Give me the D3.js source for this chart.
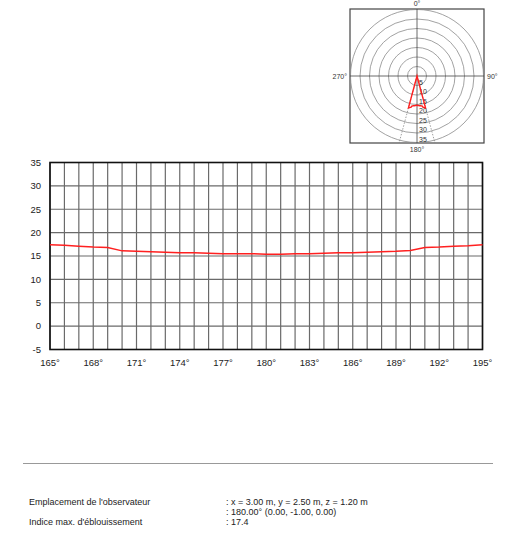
<!DOCTYPE html>
<meta charset="utf-8">
<body style="margin:0;background:#fff">
<script src="https://d3js.org/d3.v7.min.js"></script>
<svg></svg>
<script>
    var width = 505;
    var height = 536;

    // glare index per viewing angle (degrees)
    var angles = d3.range(165, 196);
    var glare = [17.4, 17.3, 17.1, 16.9, 16.8, 16.1, 16.0, 15.9, 15.8, 15.7, 15.7,
                 15.6, 15.5, 15.5, 15.5, 15.4, 15.4, 15.5, 15.5, 15.6, 15.7, 15.7,
                 15.8, 15.9, 16.0, 16.2, 16.8, 16.9, 17.1, 17.2, 17.4];
    var yTicks = [-5, 0, 5, 10, 15, 20, 25, 30, 35];
    var xTicks = [165, 168, 171, 174, 177, 180, 183, 186, 189, 192, 195];
    var ringValues = [5, 10, 15, 20, 25, 30, 35];
    var compassLabels = ["0°", "90°", "180°", "270°"];

    var infoLabels = ["Emplacement de l'observateur", "", "Indice max. d'éblouissement"];
    var infoValues = [": x = 3.00 m, y = 2.50 m, z = 1.20 m", ": 180.00° (0.00, -1.00, 0.00)", ": 17.4"];

    var svg = d3.select("svg")
        .attr("width", width)
        .attr("height", height)
        .style("display", "block")
        .style("font-family", "Liberation Sans, Arial, sans-serif");

    // **** LINE CHART ****
    var x = d3.scaleLinear().domain([165, 195]).range([50, 482.5]);
    var y = d3.scaleLinear().domain([-5, 35]).range([349.5, 162.5]);

    var grid = svg.append("g").attr("stroke", "#6a6a6a").attr("stroke-width", 1.2);
    grid.selectAll(".vx").data(d3.range(165, 196)).enter().append("line")
        .attr("x1", d => x(d)).attr("x2", d => x(d))
        .attr("y1", y(-5)).attr("y2", y(35));
    grid.selectAll(".hy").data(yTicks).enter().append("line")
        .attr("x1", x(165)).attr("x2", x(195))
        .attr("y1", d => y(d)).attr("y2", d => y(d));

    svg.append("rect")
        .attr("x", x(165)).attr("y", y(35))
        .attr("width", x(195) - x(165)).attr("height", y(-5) - y(35))
        .attr("fill", "none").attr("stroke", "#111").attr("stroke-width", 1.6);

    svg.append("path")
        .datum(angles)
        .attr("fill", "none").attr("stroke", "#ff2020").attr("stroke-width", 1.5)
        .attr("d", d3.line().x(d => x(d)).y((d, i) => y(glare[i])));

    svg.selectAll(".yl").data(yTicks).enter().append("text")
        .attr("x", 41).attr("y", d => y(d)).attr("dy", "0.35em")
        .attr("text-anchor", "end").attr("font-size", 9.5).attr("fill", "#222")
        .text(d => d);
    svg.selectAll(".xl").data(xTicks).enter().append("text")
        .attr("x", d => x(d)).attr("y", 365.5)
        .attr("text-anchor", "middle").attr("font-size", 9.5).attr("fill", "#222")
        .text(d => d + "°");

    // **** POLAR DIAGRAM ****
    var cx = 417, cy = 76, half = 67;
    var r = d3.scaleLinear().domain([0, 35]).range([0, 66.5]);
    var polar = svg.append("g");

    polar.append("rect")
        .attr("x", cx - half).attr("y", cy - half)
        .attr("width", 2 * half).attr("height", 2 * half)
        .attr("fill", "none").attr("stroke", "#444").attr("stroke-width", 1.2);

    polar.selectAll("circle").data(ringValues).enter().append("circle")
        .attr("cx", cx).attr("cy", cy).attr("r", d => r(d))
        .attr("fill", "none").attr("stroke", "#8a8a8a").attr("stroke-width", 0.8);

    polar.append("line").attr("x1", cx).attr("x2", cx).attr("y1", cy - half).attr("y2", cy + half)
        .attr("stroke", "#444").attr("stroke-width", 0.8);
    polar.append("line").attr("x1", cx - half).attr("x2", cx + half).attr("y1", cy).attr("y2", cy)
        .attr("stroke", "#444").attr("stroke-width", 0.8);

    // dashed limits of the angular range
    [165, 195].forEach(function(a) {
        var t = a * Math.PI / 180;
        var len = half / Math.abs(Math.cos(t));
        polar.append("line")
            .attr("x1", cx).attr("y1", cy)
            .attr("x2", cx + len * Math.sin(t)).attr("y2", cy - len * Math.cos(t))
            .attr("stroke", "#777").attr("stroke-width", 0.7).attr("stroke-dasharray", "1.5,1.5");
    });

    polar.selectAll(".rl").data(ringValues).enter().append("text")
        .attr("x", cx + 2).attr("y", d => cy + r(d) - 1)
        .attr("font-size", 7).attr("fill", "#333")
        .text(d => d);

    var pts = [[cx, cy]].concat(angles.map(function(a, i) {
        var t = a * Math.PI / 180;
        return [cx + r(glare[i]) * Math.sin(t), cy - r(glare[i]) * Math.cos(t)];
    }));
    polar.append("path")
        .attr("d", d3.line()(pts) + "Z")
        .attr("fill", "none").attr("stroke", "#ff2020").attr("stroke-width", 1.4);

    var cpos = [[cx, cy - half - 3, "middle"], [cx + half + 3, cy + 2.5, "start"],
                [cx, cy + half + 8.5, "middle"], [cx - half - 3, cy + 2.5, "end"]];
    polar.selectAll(".cl").data(compassLabels).enter().append("text")
        .attr("x", (d, i) => cpos[i][0]).attr("y", (d, i) => cpos[i][1])
        .attr("text-anchor", (d, i) => cpos[i][2])
        .attr("font-size", 7).attr("fill", "#333")
        .text(d => d);

    // **** INFO BLOCK ****
    svg.append("line").attr("x1", 23).attr("x2", 493).attr("y1", 463.5).attr("y2", 463.5)
        .attr("stroke", "#999").attr("stroke-width", 1);

    var rowY = [505, 514.5, 525];
    svg.selectAll(".il").data(infoLabels).enter().append("text")
        .attr("x", 29).attr("y", (d, i) => rowY[i])
        .attr("font-size", 9).attr("fill", "#222").text(d => d);
    svg.selectAll(".iv").data(infoValues).enter().append("text")
        .attr("x", 226).attr("y", (d, i) => rowY[i])
        .attr("font-size", 9).attr("fill", "#222").text(d => d);
</script>
